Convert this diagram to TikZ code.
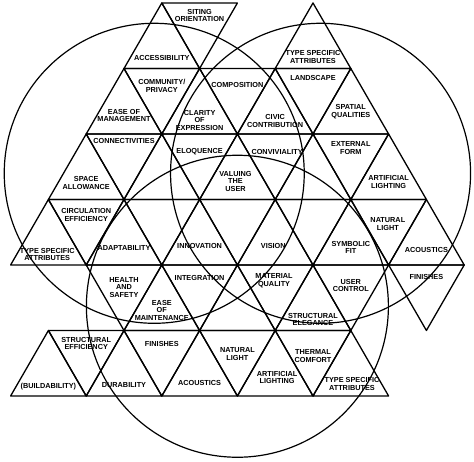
\documentclass[tikz,border=0pt]{standalone}
\usepackage{fontspec}
\setmainfont{Liberation Sans}

\begin{document}
\begin{tikzpicture}[
    x=37.8pt, y=65.5pt,
    edge/.style={draw, line width=1.3pt, line join=round},
    ring/.style={draw, line width=1.2pt},
    attr/.style={font=\fontsize{7.3}{7.6}\selectfont\bfseries, align=center, inner sep=0pt}
]

% Page frame
\useasboundingbox (-10.6pt,-66pt) rectangle (463.4pt,396pt);

% Three overlapping circles
\draw[ring] (3.8,3.4) circle [radius=150pt];
\draw[ring] (8.2,3.4) circle [radius=150pt];
\draw[ring] (6,1.37) circle [radius=151pt];

% Upward triangles (apex column/row)
\foreach \m/\r in {4/6,8/6, 3/5,5/5,7/5,9/5, 2/4,4/4,6/4,8/4,10/4,
                   1/3,3/3,5/3,7/3,9/3,11/3, 4/2,6/2,8/2, 1/1,3/1,5/1,7/1,9/1}
    \draw[edge] (\m-1,\r-1) -- (\m,\r) -- (\m+1,\r-1) -- cycle;

% Downward triangles (top edge centre)
\foreach \m/\r in {5/6, 4/5,6/5,8/5, 3/4,5/4,7/4,9/4, 2/3,4/3,6/3,8/3,10/3,
                   3/2,5/2,7/2,9/2,11/2, 2/1,4/1,6/1,8/1}
    \draw[edge] (\m-1,\r) -- (\m+1,\r) -- (\m,\r-1) -- cycle;

% Row 1
\node[attr] (siting) at (5,5.81) {SITING\\ORIENTATION};
\node[attr] (access) at (4,5.16) {ACCESSIBILITY};
\node[attr] (typetop) at (8,5.18) {TYPE SPECIFIC\\ATTRIBUTES};

% Row 2
\node[attr] (easemgmt) at (3,4.28) {EASE OF\\MANAGEMENT};
\node[attr] (community) at (4,4.73) {COMMUNITY/\\PRIVACY};
\node[attr] (clarity) at (5,4.21) {CLARITY\\OF\\EXPRESSION};
\node[attr] (composition) at (6,4.75) {COMPOSITION};
\node[attr] (civic) at (7,4.2) {CIVIC\\CONTRIBUTION};
\node[attr] (landscape) at (8,4.85) {LANDSCAPE};
\node[attr] (spatial) at (9,4.34) {SPATIAL\\QUALITIES};

% Row 3
\node[attr] (space) at (2,3.25) {SPACE\\ALLOWANCE};
\node[attr] (connect) at (3,3.89) {CONNECTIVITIES};
\node[attr] (eloquence) at (5,3.73) {ELOQUENCE};
\node[attr] (valuing) at (5.95,3.28) {VALUING\\THE\\USER};
\node[attr] (convivial) at (7.05,3.73) {CONVIVIALITY};
\node[attr] (extform) at (9,3.79) {EXTERNAL\\FORM};
\node[attr] (artlightA) at (10,3.27) {ARTIFICIAL\\LIGHTING};

% Row 4
\node[attr] (typeleft) at (0.97,2.16) {TYPE SPECIFIC\\ATTRIBUTES};
\node[attr] (circulation) at (2,2.76) {CIRCULATION\\EFFICIENCY};
\node[attr] (adapt) at (3,2.26) {ADAPTABILITY};
\node[attr] (innov) at (5,2.29) {INNOVATION};
\node[attr] (vision) at (6.95,2.29) {VISION};
\node[attr] (symbolic) at (9,2.27) {SYMBOLIC\\FIT};
\node[attr] (natlightA) at (9.98,2.63) {NATURAL\\LIGHT};
\node[attr] (acousticsA) at (11,2.23) {ACOUSTICS};

% Row 5
\node[attr] (health) at (3,1.66) {HEALTH\\AND\\SAFETY};
\node[attr] (easemaint) at (4,1.31) {EASE\\OF\\MAINTENANCE};
\node[attr] (integ) at (5,1.8) {INTEGRATION};
\node[attr] (material) at (6.97,1.76) {MATERIAL\\QUALITY};
\node[attr] (elegance) at (8,1.17) {STRUCTURAL\\ELEGANCE};
\node[attr] (userctrl) at (9,1.69) {USER\\CONTROL};
\node[attr] (finishesA) at (11,1.82) {FINISHES};

% Row 6
\node[attr] (buildability) at (1,0.14) {(BUILDABILITY)};
\node[attr] (structeff) at (2,0.8) {STRUCTURAL\\EFFICIENCY};
\node[attr] (durab) at (3,0.17) {DURABILITY};
\node[attr] (finishesB) at (4,0.79) {FINISHES};
\node[attr] (acousticsB) at (5,0.2) {ACOUSTICS};
\node[attr] (natlightB) at (6,0.64) {NATURAL\\LIGHT};
\node[attr] (artlightB) at (7.05,0.28) {ARTIFICIAL\\LIGHTING};
\node[attr] (thermal) at (8,0.61) {THERMAL\\COMFORT};
\node[attr] (typebottom) at (9.03,0.18) {TYPE SPECIFIC\\ATTRIBUTES};

\end{tikzpicture}
\end{document}
